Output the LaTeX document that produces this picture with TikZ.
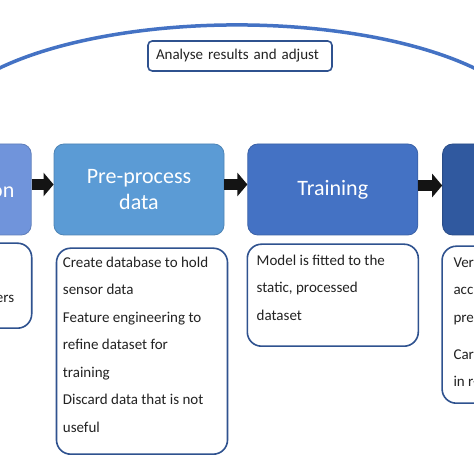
\documentclass[tikz,border=0pt]{standalone}
\usepackage{fontspec}
\setmainfont{Carlito}
\usetikzlibrary{arrows.meta,positioning}
\definecolor{stepone}{HTML}{7094DB}
\definecolor{steptwo}{HTML}{5B9BD5}
\definecolor{stepthree}{HTML}{4472C4}
\definecolor{stepfour}{HTML}{30599F}
\definecolor{frameblue}{HTML}{2F528F}
\definecolor{loopblue}{HTML}{4472C4}
\definecolor{darktext}{HTML}{222222}
\tikzset{
  stepnode/.style={draw=#1!85!black,fill=#1,line width=0.8pt,rounded corners=3.5mm,minimum width=170pt,minimum height=91pt,inner sep=0pt,align=center,text=white,font=\fontsize{22}{26}\selectfont},
  infonode/.style={draw=frameblue,line width=1.6pt,rounded corners=5mm,fill=white,minimum width=171pt,inner sep=0pt},
  infotext/.style={anchor=north west,align=left,inner sep=0pt,text=darktext,font=\fontsize{15}{27.5}\selectfont},
  notenode/.style={draw=frameblue,line width=1.6pt,rounded corners=1.5mm,fill=white,minimum height=30pt,text width=168pt,inner xsep=8pt,align=left,text=darktext,font=\fontsize{15}{18}\selectfont},
  flowarrow/.style={-{Triangle[length=10pt,width=23pt]},line width=11pt,black!92},
  loopline/.style={loopblue,line width=3.5pt}
}
\begin{document}
\begin{tikzpicture}[x=1pt,y=1pt,node distance=12pt and 23pt]
  \useasboundingbox (0,0) rectangle (474,474);
  \fill[white] (0,0) rectangle (474,474);
  \clip (0,0) rectangle (474,474);

  % feedback loop over the top
  \coordinate (loopstart) at (-45,376);
  \draw[loopline] (loopstart) arc[start angle=160,end angle=20,x radius=300,y radius=111];
  \node[notenode] (adjust) at (240,418) {Analyse results and adjust};

  % process steps
  \node[stepnode=steptwo] (prep) at (139,284.5) {Pre-process\\data};
  \node[stepnode=stepone,left=22pt of prep] (collect) {};
  \node[stepnode=stepthree,right=23pt of prep] (train) {Training};
  \node[stepnode=stepfour,right=24pt of train] (deploy) {};
  \node[anchor=east,inner sep=0pt,text=white,font=\fontsize{22}{26}\selectfont] (collectlabel) at ([shift={(-17,-3)}]collect.east) {on};

  \draw[flowarrow] ([yshift=5]collect.east) -- ([yshift=5]prep.west);
  \draw[flowarrow] ([yshift=5]prep.east) -- ([yshift=5]train.west);
  \draw[flowarrow] ([yshift=4]train.east) -- ([yshift=4]deploy.west);

  % descriptions under each step
  \node[infonode,minimum height=85pt,below=7pt of collect] (collectinfo) {};
  \node[infonode,minimum height=206pt,below=12pt of prep,xshift=3pt] (prepinfo) {};
  \node[infonode,minimum height=102pt,below=8pt of train] (traininfo) {};
  \node[infonode,minimum height=157pt,below=10pt of deploy] (deployinfo) {};

  \node[infotext,anchor=east] (collecttext) at ([shift={(-18,-13)}]collectinfo.east) {ers};
  \node[infotext] (preptext) at ([shift={(7,-9)}]prepinfo.north west) {Create database to hold\\sensor data\\Feature engineering to\\refine dataset for\\training\\Discard data that is not\\useful};
  \node[infotext] (traintext) at ([shift={(10,-11)}]traininfo.north west) {Model is fitted to the\\static, processed\\dataset};
  \node[infotext] (deploytext) at ([shift={(12,-12)}]deployinfo.north west) {Ver\\acc\\pre-\\[9.5pt]Car\\in r-};
\end{tikzpicture}
\end{document}
